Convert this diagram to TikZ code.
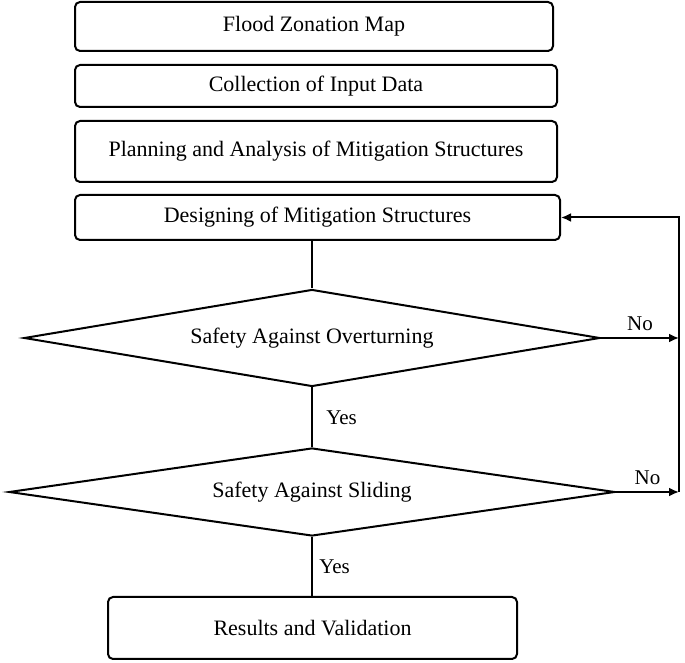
\documentclass[tikz,border=0pt]{standalone}
\usepackage{fontspec}
\setmainfont{Liberation Serif}
\usetikzlibrary{positioning,arrows.meta,shapes.geometric,calc}

\begin{document}
\begin{tikzpicture}[x=1pt, y=1pt,
    box/.style={rectangle, rounded corners=5pt, draw=black, line width=2pt,
        inner sep=0pt, font=\fontsize{22}{26}\selectfont, align=center},
    dec/.style={diamond, draw=black, line width=2pt, aspect=6,
        inner sep=0pt, font=\fontsize{22}{26}\selectfont},
    lnk/.style={line width=2pt},
    arr/.style={-{Latex[length=10pt,width=9pt]}, line width=2pt},
    lbl/.style={font=\fontsize{21}{25}\selectfont},
]
\useasboundingbox (0,0) rectangle (685,663);

\node[box, minimum width=478pt, minimum height=49pt] (map) at (314,636.5) {Flood Zonation Map};
\node[box, minimum width=482pt, minimum height=42pt] (input) at (316,577) {Collection of Input Data};
\node[box, minimum width=482pt, minimum height=61pt] (plan) at (316,511.5) {Planning and Analysis of Mitigation Structures};
\node[box, minimum width=485pt, minimum height=45pt] (design) at (317.5,445.5) {Designing of Mitigation Structures};
\node[dec, minimum width=576pt, minimum height=97pt] (over) at (312,325) {Safety Against Overturning};
\node[dec, minimum width=606pt, minimum height=88pt] (slide) at (312,171) {Safety Against Sliding};
\node[box, minimum width=409pt, minimum height=62pt] (result) at (312.5,35) {Results and Validation};

\coordinate[right=118pt of design.east] (loop);

\draw[lnk] (over.north |- design.south) -- (over.north);
\draw[lnk] (over.south) -- node[lbl, right=10pt] {Yes} (slide.north);
\draw[lnk] (slide.south) -- node[lbl, right=3pt] {Yes} (slide.south |- result.north);

\draw[arr] (over.east) -- node[lbl, above=3pt] {No} (over.east -| loop);
\draw[arr] (slide.east) -- node[lbl, above=3pt] {No} (slide.east -| loop);
\draw[arr] (slide.east -| loop) -- (loop) -- (design.east);
\end{tikzpicture}
\end{document}
